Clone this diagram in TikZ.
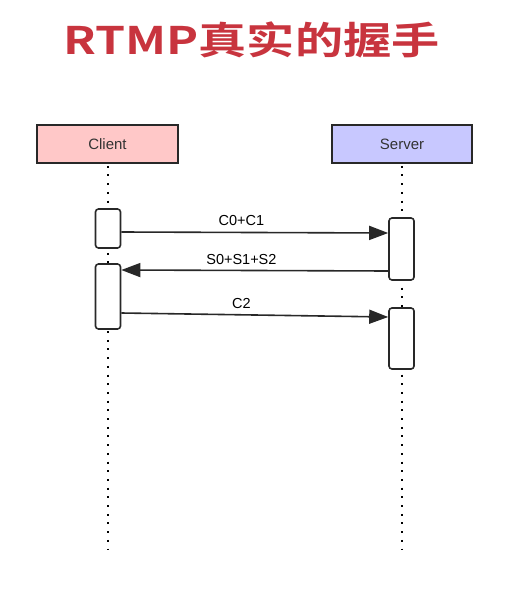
\documentclass[tikz,border=0pt]{standalone}
\usepackage{fontspec}
\setmainfont{Liberation Sans}
\newfontfamily\cjkbold[BoldFont=*]{Noto Sans CJK SC Bold}
\usetikzlibrary{arrows.meta}
\definecolor{titlered}{RGB}{200,52,62}
\definecolor{clientfill}{RGB}{255,200,200}
\definecolor{serverfill}{RGB}{200,200,255}
\definecolor{edgegray}{RGB}{40,40,40}
\tikzset{
  header/.style={draw=edgegray, line width=1.5pt, minimum height=38pt, inner sep=0pt, font=\fontsize{15}{18}\selectfont, text=black!80},
  actbox/.style={draw=edgegray, fill=white, line width=1.6pt, rounded corners=3pt, minimum width=25pt, inner sep=0pt},
  lifeline/.style={line width=2pt, dash pattern=on 2pt off 6.7pt, black},
  msg/.style={line width=1.6pt, edgegray, -{Triangle[length=19pt,width=14pt]}},
  msglabel/.style={font=\fontsize{14.5}{16}\selectfont, text=black}
}
\begin{document}
\begin{tikzpicture}[x=1pt,y=-1pt]
\useasboundingbox (0,0) rectangle (516,591);
\node[anchor=base, text=titlered, inner sep=0pt] (title) at (251.5,55)
  {\scalebox{1.266}[1]{\fontsize{38}{44}\cjkbold RTMP真实的握手}};
\node[header, fill=clientfill, minimum width=141pt] (client) at (107.5,144) {Client};
\node[header, fill=serverfill, minimum width=140pt] (server) at (402,144) {Server};
\coordinate (cend) at (108,550);
\coordinate (send) at (402,550);
\draw[lifeline] ([yshift=-2pt]client.south) -- (client.south |- cend);
\draw[lifeline] ([yshift=-2pt]server.south) -- (server.south |- send);
\node[actbox, minimum height=39pt] (ca1) at (108,228.5) {};
\node[actbox, minimum height=65pt] (ca2) at (108,296.5) {};
\node[actbox, minimum height=62pt] (sa1) at (401.5,249) {};
\node[actbox, minimum height=61pt] (sa2) at (401.5,338.5) {};
\draw[msg] ([yshift=-3.5pt]ca1.east) -- node[msglabel, above=3pt, pos=0.45] {C0+C1} ([yshift=16pt]sa1.west);
\draw[msg] ([yshift=-22pt]sa1.west) -- node[msglabel, above=2pt, pos=0.55] {S0+S1+S2} ([yshift=26.5pt]ca2.east);
\draw[msg] ([yshift=-16.5pt]ca2.east) -- node[msglabel, above=2pt, pos=0.45] {C2} ([yshift=21.5pt]sa2.west);
\end{tikzpicture}
\end{document}
